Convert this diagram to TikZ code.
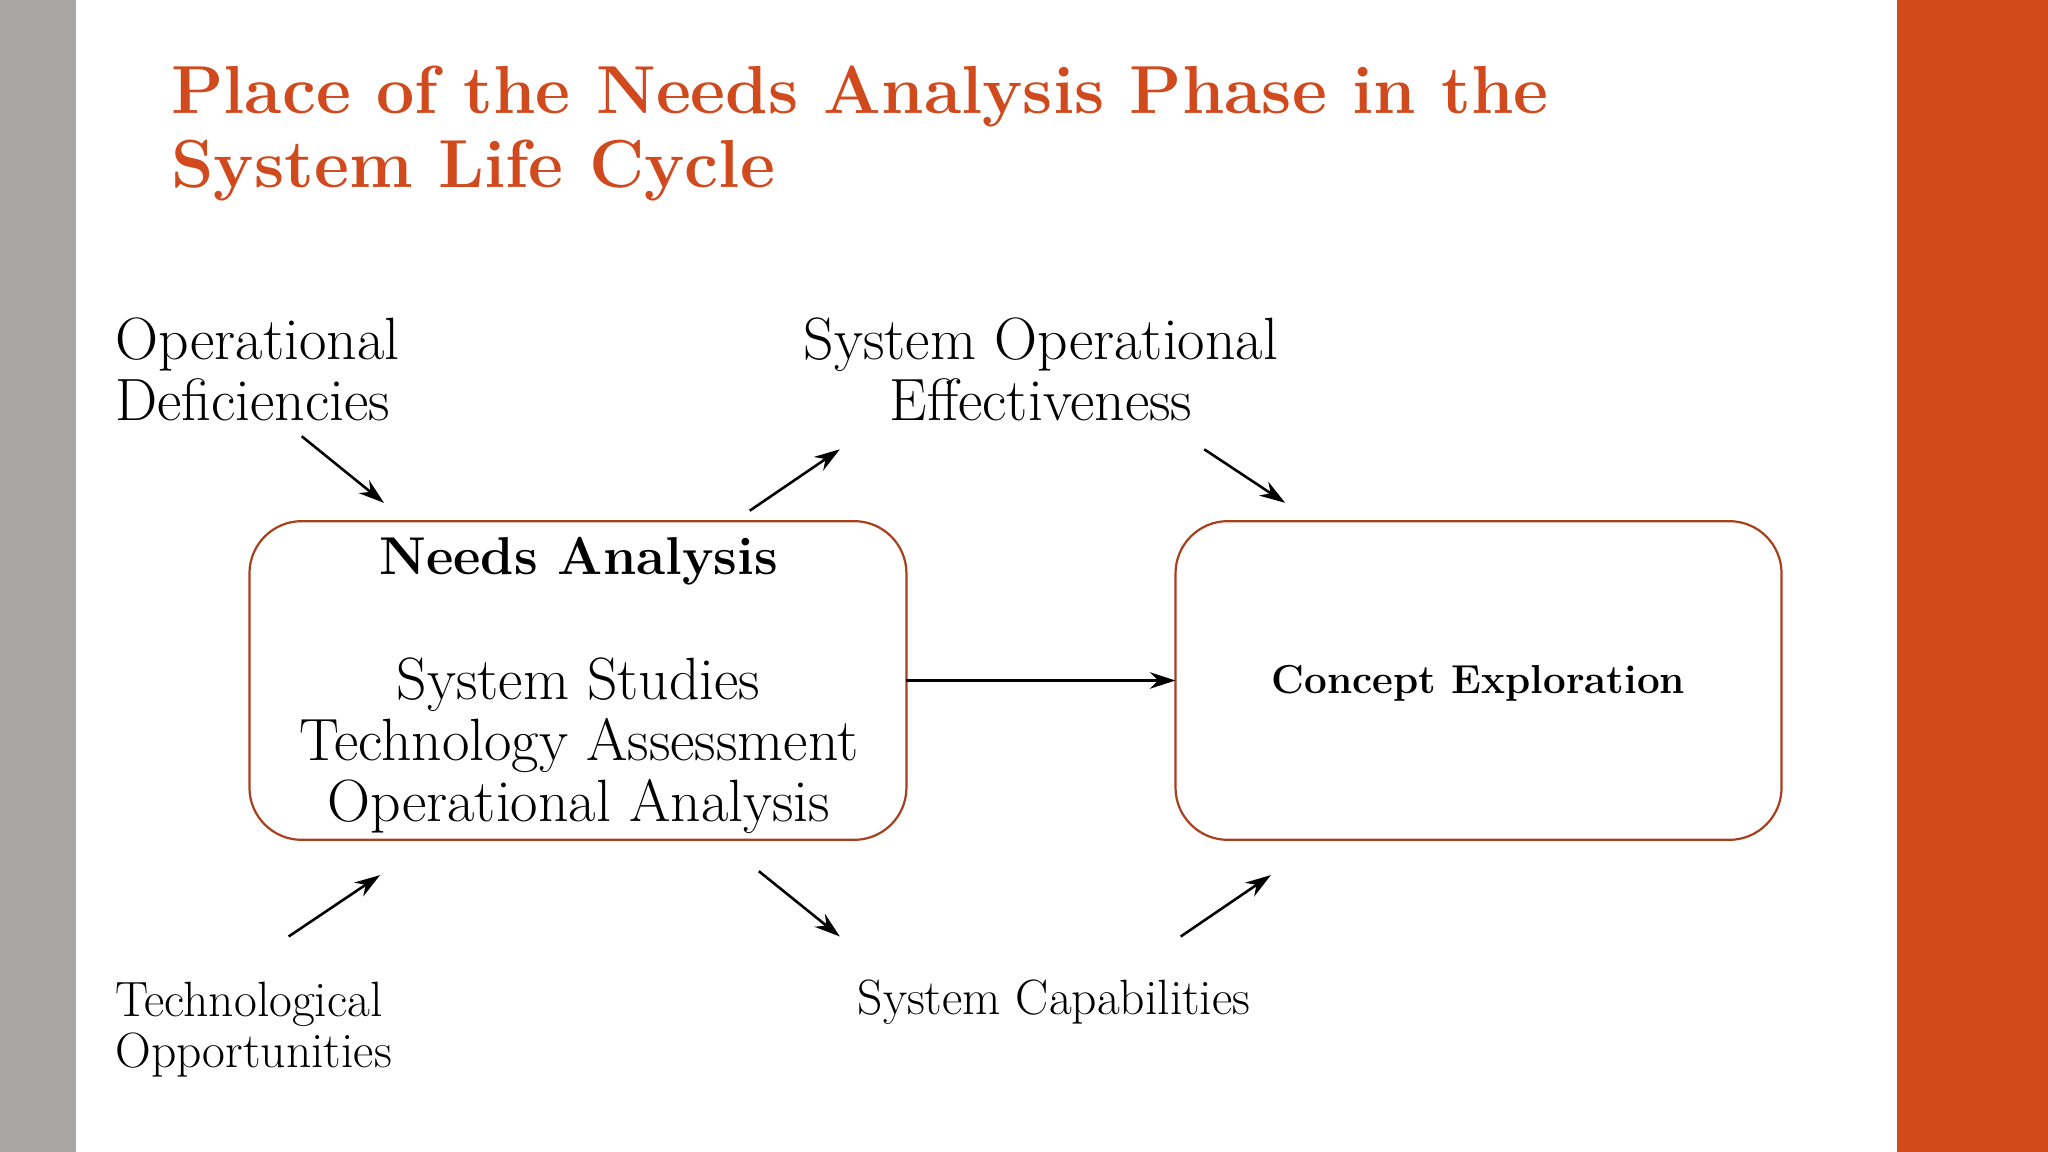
\documentclass[tikz,border=0pt]{standalone}
\usepackage{tikz}
\usepackage{xcolor}
\usetikzlibrary{arrows.meta}
\definecolor{titrecouleur}{HTML}{D04A1E}
\definecolor{bordcouleur}{HTML}{A8401E}
\definecolor{barregrise}{HTML}{A9A6A4}
\definecolor{barreorange}{HTML}{D24A1A}
\begin{document}
\begin{tikzpicture}[x=0.025cm,y=-0.025cm]
% Styles
\tikzstyle{fleche}=[-{Stealth[length=14pt,width=9pt]},line width=1.4pt]
\tikzstyle{boite}=[draw=bordcouleur,line width=1.2pt,rounded corners=40*0.025cm]
\tikzstyle{grand}=[font=\fontsize{32.5}{33.4}\selectfont,align=center]
\tikzstyle{petit}=[font=\fontsize{27}{27.7}\selectfont]
% Cadre et bandes
\useasboundingbox (0,0) rectangle (1568,882);
\fill[white] (0,0) rectangle (1568,882);
\fill[barregrise] (0,0) rectangle (58,882);
\fill[barreorange] (1452,0) rectangle (1568,882);
% Titre
\node[anchor=north west,align=left,text=titrecouleur,inner sep=0pt,
  font=\fontsize{37}{40.5}\selectfont\bfseries] (titre) at (131,50)
  {Place of the Needs Analysis Phase in the\\System Life Cycle};
% Boites
\draw[boite] (191,399) rectangle (694,643);
\draw[boite] (900,399) rectangle (1364,643);
\coordinate (NAe) at (694,521);
\coordinate (CEw) at (900,521);
% Textes
\node[grand,font=\fontsize{29}{33.4}\selectfont\bfseries] (NA) at (443,430) {Needs Analysis};
\node[grand] (etudes) at (443,571)
  {System Studies\\Technology Assessment\\Operational Analysis};
\node[font=\fontsize{22}{24}\selectfont\bfseries] (CE) at (1132,523) {Concept Exploration};
\node[grand,align=left,anchor=west,inner sep=0pt] (OD) at (88,283)
  {Operational\\Deficiencies};
\node[grand] (SOE) at (797,283)
  {System Operational\\Effectiveness};
\node[petit,align=left,anchor=west,inner sep=0pt] (TO) at (88,788)
  {Technological\\Opportunities};
\node[petit] (SC) at (807,767) {System Capabilities};
% Fleches
\coordinate (a1) at (231,334); \coordinate (b1) at (294,385);
\coordinate (a2) at (574,391); \coordinate (b2) at (643,344);
\coordinate (a3) at (922,344); \coordinate (b3) at (984,385);
\coordinate (a4) at (221,717); \coordinate (b4) at (291,670);
\coordinate (a5) at (581,667); \coordinate (b5) at (643,717);
\coordinate (a6) at (904,717); \coordinate (b6) at (973,670);
\draw[fleche] (a1)--(b1);
\draw[fleche] (a2)--(b2);
\draw[fleche] (a3)--(b3);
\draw[fleche] (a4)--(b4);
\draw[fleche] (a5)--(b5);
\draw[fleche] (a6)--(b6);
\draw[fleche] (NAe)--(CEw);
\end{tikzpicture}
\end{document}
